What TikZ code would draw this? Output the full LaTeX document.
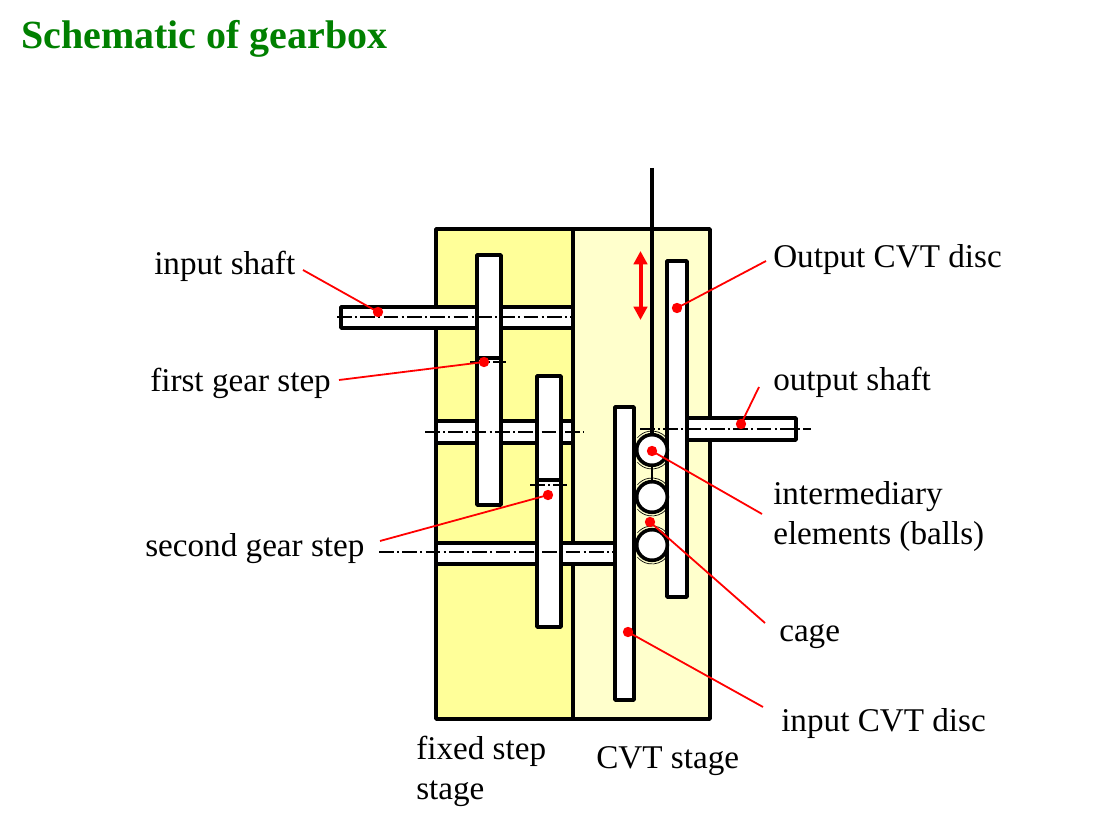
\documentclass[tikz,border=0pt]{standalone}
\usepackage{fontspec}
\setmainfont{Liberation Serif}
\usetikzlibrary{arrows.meta}
\definecolor{stageA}{HTML}{FFFF99}
\definecolor{stageB}{HTML}{FFFFCC}
\definecolor{titlegreen}{HTML}{008000}
\tikzset{
  partbox/.style={draw=black,line width=2.7pt,line join=round,inner sep=0pt,outer sep=0pt,fill=white},
  centre/.style={draw=black,line width=0.8pt,dash pattern=on 11pt off 2.5pt on 1.5pt off 2.5pt},
  ballpart/.style={circle,draw=black,line width=2.7pt,fill=white,inner sep=0pt,outer sep=0pt,minimum size=23pt},
  guide/.style={draw=red,line width=1.35pt},
  dot/.style={circle,fill=red,inner sep=0pt,outer sep=0pt,minimum size=7.8pt},
  lab/.style={font=\fontsize{24.88}{30}\selectfont,anchor=base west,inner sep=0pt,align=left},
  seat/.style={draw=black,line width=0.5pt}
}
\newcommand{\pbox}[6][partbox]{\node[#1,minimum width={(#5-#3)*0.75pt},minimum height={(#6-#4)*0.75pt}] (#2) at ({(#3+#5)/2},{(#4+#6)/2}) {};}
\begin{document}
\begin{tikzpicture}[x=0.75pt,y=-0.75pt]
\useasboundingbox[fill=white] (0,0) rectangle (1097,823);
\node[font=\bfseries\fontsize{29.98}{34}\selectfont,text=titlegreen,anchor=base west,inner sep=0pt] (title) at (21,49) {Schematic of gearbox};
% stages
\pbox[partbox,fill=stageA]{fixed}{436}{229}{573}{719}
\pbox[partbox,fill=stageB]{cvt}{573}{229}{710}{719}
% shafts
\pbox{inshaft}{341}{307}{573}{328}
\pbox{midshaft}{436}{421}{573}{443}
\pbox{lowshaft}{436}{543}{615}{564}
\pbox{outshaft}{687}{418}{796}{440}
% gears
\pbox{gearAup}{477}{255}{501}{358}
\pbox{gearAlow}{477}{358}{501}{505}
\pbox{gearBup}{537}{376}{561}{480}
\pbox{gearBlow}{537}{480}{561}{627}
\pbox{indisc}{615}{407}{634}{700}
\pbox{outdisc}{667}{261}{687}{597}
% lever and balls
\coordinate (levertop) at (652,168);
\node[ballpart] (ballA) at (652,450) {};
\node[ballpart] (ballB) at (652,497) {};
\node[ballpart] (ballC) at (652,545) {};
\draw[line width=2.7pt] (levertop) -- (ballA.north);
\draw[line width=1.6pt] (ballA.south) -- (ballB.north);
\foreach \b in {ballA,ballB,ballC}{
  \draw[seat] (\b) ++(-40:19) arc[start angle=-40,end angle=-140,radius=19];
  \draw[seat] (\b) ++(40:19) arc[start angle=40,end angle=140,radius=19];
}
% centre lines
\coordinate (c1a) at (337,317); \coordinate (c1b) at (573,317);
\coordinate (c2a) at (425,432); \coordinate (c2b) at (584,432);
\coordinate (c3a) at (379,552); \coordinate (c3b) at (615,552);
\coordinate (c4a) at (640,429); \coordinate (c4b) at (811,429);
\coordinate (c5a) at (470,362); \coordinate (c5b) at (506,362);
\coordinate (c6a) at (530,485); \coordinate (c6b) at (567,485);
\foreach \a/\b in {c1a/c1b,c2a/c2b,c3a/c3b,c4a/c4b,c5a/c5b,c6a/c6b}{\draw[centre] (\a) -- (\b);}
% red arrow
\coordinate (arrtop) at (640.5,251); \coordinate (arrbot) at (640.5,320);
\draw[draw=red,fill=red,line width=3pt,{Triangle[length=10pt,width=10pt]}-{Triangle[length=10pt,width=10pt]}] (arrtop) -- (arrbot);
% labels
\node[lab] (linshaft) at (154,275) {input shaft};
\node[lab] (lfirst) at (150,392) {first gear step};
\node[lab] (lsecond) at (145,557) {second gear step};
\node[lab] (loutdisc) at (773,268) {Output CVT disc};
\node[lab] (loutshaft) at (773,391) {output shaft};
\node[lab,anchor=north west] (lballs) at (773,481) {intermediary\\elements (balls)};
\node[lab] (lcage) at (779,642) {cage};
\node[lab] (lindisc) at (781,731) {input CVT disc};
\node[lab,anchor=north west] (lfixed) at (416,736) {fixed step\\stage};
\node[lab] (lcvt) at (596,768) {CVT stage};
% dots
\node[dot] (d1) at (378,312) {};
\node[dot] (d2) at (484,362) {};
\node[dot] (d3) at (548,495) {};
\node[dot] (d4) at (677,308) {};
\node[dot] (d5) at (741,424) {};
\node[dot] (d6) at (652,451) {};
\node[dot] (d7) at (650,522) {};
\node[dot] (d8) at (628,632) {};
% leaders
\coordinate (e1) at (303,270);
\coordinate (e2) at (339,380);
\coordinate (e3) at (380,541);
\coordinate (e4) at (766,261);
\coordinate (e5) at (759,387);
\coordinate (e6) at (762,514);
\coordinate (e7) at (765,623);
\coordinate (e8) at (763,707);
\foreach \i in {1,...,8}{\draw[guide] (e\i) -- (d\i.center);}
\end{tikzpicture}
\end{document}
